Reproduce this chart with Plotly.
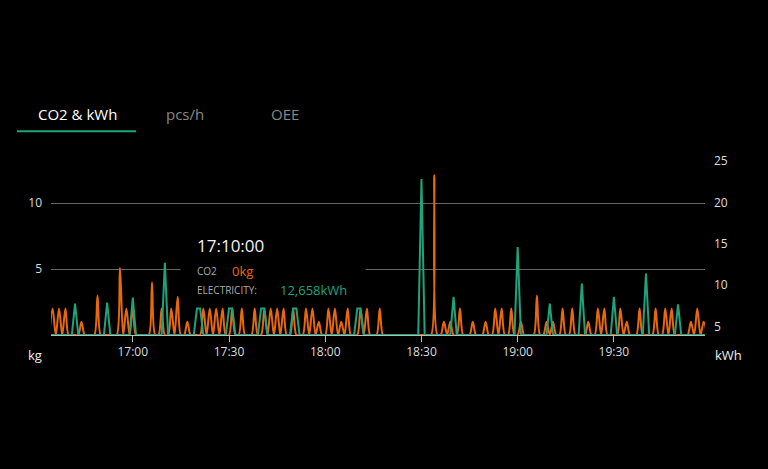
import datetime as dt
import plotly.graph_objects as go

# CO2 peaks (minutes after 16:00, kg)
co2_peak_min = [35, 37, 39, 44, 49, 56, 58, 60, 66, 69, 72, 74, 77, 82, 84, 86, 88, 91, 94,
                98, 101, 103, 105, 107, 110, 114, 116, 118, 121, 123, 125, 127,
                131, 133, 137, 154, 157, 159, 162, 166, 170, 173, 175, 178, 181, 186,
                189, 191, 194, 197, 202, 205, 207, 212, 214, 218, 223, 226, 228, 234, 236, 238]
co2_peak_kg = [2, 2, 2, 1, 3, 5.1, 2, 2, 4, 2, 2, 2.9, 1, 2, 2, 2, 2, 2, 2,
               2, 2, 2, 2, 2, 2, 2, 2, 1, 2, 2, 1, 2,
               2, 2, 2, 12.1, 1, 1, 2, 1, 1, 2, 2, 2, 1, 3,
               1, 1, 2, 2, 1, 2, 2, 2, 1, 2, 2, 2, 2, 1, 2, 1]

# electricity peaks (minutes after 16:00, kWh)
kwh_peak_min = [42, 52, 60, 70, 80, 81, 90, 91, 100, 101, 110, 111, 130, 131,
                150, 160, 180, 190, 200, 210, 220, 230]
kwh_peak_val = [7.8, 7.9, 8.5, 12.7, 7.2, 7.2, 7.2, 7.2, 7.2, 7.2, 7.2, 7.2, 7.2, 7.2,
                22.8, 8.6, 14.6, 7.8, 10.2, 8.6, 11.4, 7.7]

steps = list(range(34, 240))
base = dt.datetime(2024, 1, 1, 16, 0)
times = [base + dt.timedelta(minutes=m) for m in steps]

co2 = [0.0] * len(steps)
for m, v in zip(co2_peak_min, co2_peak_kg):
    co2[steps.index(m)] = v
kwh = [4.0] * len(steps)
for m, v in zip(kwh_peak_min, kwh_peak_val):
    kwh[steps.index(m)] = v

ORANGE = "#e8680e"
GREEN = "#1fa37c"


def note(text, x, y, size, color, xanchor="left"):
    return dict(text=text, xref="paper", yref="paper", x=x, y=y, xanchor=xanchor,
                yanchor="middle", showarrow=False, font=dict(size=size, color=color))


fig = go.Figure()
fig.add_trace(go.Scatter(x=times, y=kwh, yaxis="y2", mode="lines",
                         line=dict(color=GREEN, width=2), hoverinfo="skip"))
fig.add_trace(go.Scatter(x=times, y=co2, mode="lines",
                         line=dict(color=ORANGE, width=2, shape="spline", smoothing=0.9),
                         hoverinfo="skip"))

fig.update_layout(
    width=768, height=469, showlegend=False,
    paper_bgcolor="black", plot_bgcolor="black",
    margin=dict(l=51, r=63, t=160, b=134),
    font=dict(family="Open Sans", color="#dddddd", size=12),
    xaxis=dict(range=[base + dt.timedelta(minutes=34.5), base + dt.timedelta(minutes=238.4)],
               tickvals=[base + dt.timedelta(minutes=m) for m in (60, 90, 120, 150, 180, 210)],
               ticktext=["17:00", "17:30", "18:00", "18:30", "19:00", "19:30"],
               showgrid=False, showline=True, linecolor="#bbbbbb", linewidth=1,
               ticks="outside", tickcolor="#bbbbbb", ticklen=6, zeroline=False),
    yaxis=dict(range=[0, 13.26], tickvals=[5, 10], showgrid=True, gridcolor="#666666",
               zeroline=False, ticks="", ticklabelstandoff=8),
    yaxis2=dict(range=[4, 25.1], overlaying="y", side="right", tickvals=[5, 10, 15, 20, 25],
                showgrid=False, zeroline=False, ticklabelstandoff=8),
    shapes=[
        dict(type="rect", xref="paper", yref="paper", x0=0.198, x1=0.481, y0=0.2, y1=0.58,
             fillcolor="black", line=dict(width=0), layer="above"),
        dict(type="line", xref="paper", yref="paper", x0=-0.052, x1=0.13, y0=1.165, y1=1.165,
             line=dict(color=GREEN, width=2)),
    ],
    annotations=[
        note("17:10:00", 0.22, 0.51, 17, "#f2f2f2"),
        note("CO2", 0.22, 0.366, 10, "#aaaaaa"),
        note("0kg", 0.274, 0.366, 13, ORANGE),
        note("ELECTRICITY:", 0.22, 0.257, 10, "#aaaaaa"),
        note("12,658kWh", 0.347, 0.257, 13, GREEN),
        note("kg", -0.025, -0.115, 13, "#eeeeee", "center"),
        note("kWh", 1.012, -0.115, 13, "#eeeeee"),
        note("CO2 & kWh", 0.04, 1.265, 15, "#ffffff", "center"),
        note("pcs/h", 0.205, 1.265, 15, "#888888", "center"),
        note("OEE", 0.358, 1.265, 15, "#888888", "center"),
    ],
)

fig.write_html("out.html", config={"displayModeBar": False},
               post_script="document.body.style.margin='0';"
                           "document.body.style.background='black';")
